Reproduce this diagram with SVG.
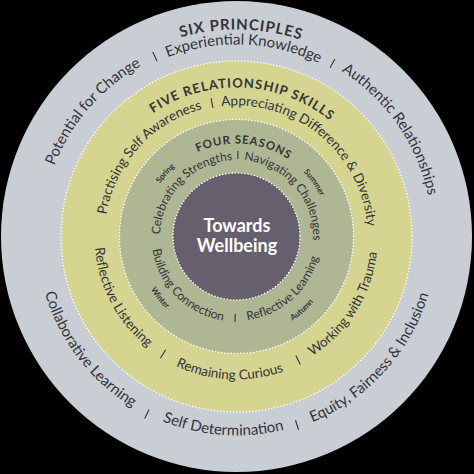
<svg xmlns="http://www.w3.org/2000/svg" xmlns:xlink="http://www.w3.org/1999/xlink" width="474" height="474" viewBox="0 0 474 474">
<style>
.t{font-family:Lato,"Open Sans","Liberation Sans",sans-serif;fill:#33333a}
.p{font-size:15px}
.s{font-size:13.5px}
.q{font-size:12px}
.h{font-weight:bold;letter-spacing:1px}
.n{font-size:8px;font-weight:bold}
.dot{fill:none;stroke:#fff;stroke-width:1.6;stroke-dasharray:0 3.2;stroke-linecap:round}
.sep{stroke:#33333a;stroke-width:1.1}
</style>
<defs>
<path id="a1" d="M29.55,231.8 A207,207 0 0 1 443.45,241.2"/>
<path id="a2" d="M44.64,229.13 A192,192 0 0 1 428.36,243.87"/>
<path id="a3" d="M107.91,384.42 A196,196 0 0 1 365.09,88.58"/>
<path id="a4" d="M124.63,75.55 A196,196 0 0 1 348.37,397.45"/>
<path id="a5" d="M114.14,77.04 A201,201 0 0 0 358.86,395.96"/>
<path id="a6" d="M36.99,222.55 A200,200 0 0 0 436.01,250.45"/>
<path id="a7" d="M101.23,385.17 A201,201 0 0 0 371.77,87.83"/>
<path id="b1" d="M87.64,230 A149,149 0 0 1 385.36,243"/>
<path id="b2" d="M147.83,334.29 A132,132 0 0 1 325.17,138.71"/>
<path id="b3" d="M134.65,152.54 A132,132 0 0 1 338.35,320.46"/>
<path id="b4" d="M170.05,111 A142,142 0 0 0 302.95,362"/>
<path id="b5" d="M93.68,229.27 A143,143 0 0 0 379.32,243.73"/>
<path id="b6" d="M161.25,356.92 A142,142 0 0 0 311.75,116.08"/>
<path id="c1" d="M143.81,228.88 A93,93 0 0 1 329.19,244.12"/>
<path id="c2" d="M182.82,291.7 A77,77 0 0 1 290.18,181.3"/>
<path id="c3" d="M186.19,178.21 A77,77 0 0 1 286.81,294.79"/>
<path id="c4" d="M174.75,306.05 A93,93 0 0 1 298.25,166.95"/>
<path id="c5" d="M183.42,160.13 A93,93 0 0 1 289.58,312.87"/>
<path id="c6" d="M176.5,176.29 A85,85 0 0 0 296.5,296.71"/>
<path id="c7" d="M172.94,292.93 A85,85 0 0 0 300.06,180.07"/>
<path id="c8" d="M173.21,157.79 A101,101 0 0 0 299.79,315.21"/>
<path id="c9" d="M161.09,303.69 A101,101 0 0 0 311.91,169.31"/>
</defs>
<rect width="474" height="474" fill="#000"/>
<g id="six-principles">
<circle cx="236.5" cy="236.5" r="235.5" fill="#c9cdd4"/>
<text class="t p h" style="letter-spacing:0.9px"><textPath href="#a1" startOffset="50%" text-anchor="middle">SIX PRINCIPLES</textPath></text>
<text class="t p"><textPath href="#a2" startOffset="50%" text-anchor="middle">Experiential Knowledge</textPath></text>
<text class="t p"><textPath href="#a3" startOffset="50%" text-anchor="middle">Potential for Change</textPath></text>
<text class="t p"><textPath href="#a4" startOffset="50%" text-anchor="middle">Authentic Relationships</textPath></text>
<text class="t p"><textPath href="#a5" startOffset="50%" text-anchor="middle">Collaborative Learning</textPath></text>
<text class="t p"><textPath href="#a6" startOffset="50%" text-anchor="middle">Self Determination</textPath></text>
<text class="t p"><textPath href="#a7" startOffset="50%" text-anchor="middle">Equity, Fairness &amp; Inclusion</textPath></text>
<path class="sep" d="M156.98,61.19L152.85,52.09M330.07,67.7L334.92,58.95M149.12,409.48L144.61,418.41M295.5,420.26L298.56,429.78"/>
</g>
<g id="five-relationship-skills">
<circle cx="236.5" cy="236.5" r="175.5" fill="#d5d490"/>
<circle class="dot" cx="236.5" cy="236.5" r="175.5"/>
<text class="t h" style="font-size:13px"><textPath href="#b1" startOffset="50%" text-anchor="middle">FIVE RELATIONSHIP SKILLS</textPath></text>
<text class="t s"><textPath href="#b2" startOffset="50%" text-anchor="middle">Practising Self Awareness</textPath></text>
<text class="t s"><textPath href="#b3" startOffset="50%" text-anchor="middle">Appreciating Difference &amp; Diversity</textPath></text>
<text class="t s"><textPath href="#b4" startOffset="50%" text-anchor="middle">Reflective Listening</textPath></text>
<text class="t s"><textPath href="#b5" startOffset="50%" text-anchor="middle">Remaining Curious</textPath></text>
<text class="t s"><textPath href="#b6" startOffset="50%" text-anchor="middle">Working with Trauma</textPath></text>
<path class="sep" d="M212.91,107.95L211.1,98.11M165.7,349.8L160.4,358.28M295.84,355.53L300.31,364.47"/>
</g>
<g id="four-seasons">
<circle cx="236.5" cy="236.5" r="117" fill="#aeb693"/>
<circle class="dot" cx="236.5" cy="236.5" r="117"/>
<text class="t h" style="font-size:11.5px;letter-spacing:0.8px"><textPath href="#c1" startOffset="50%" text-anchor="middle">FOUR SEASONS</textPath></text>
<text class="t q"><textPath href="#c2" startOffset="50%" text-anchor="middle">Celebrating Strengths</textPath></text>
<text class="t q"><textPath href="#c3" startOffset="50%" text-anchor="middle">Navigating Challenges</textPath></text>
<text class="t n"><textPath href="#c4" startOffset="50%" text-anchor="middle">Spring</textPath></text>
<text class="t n"><textPath href="#c5" startOffset="50%" text-anchor="middle">Summer</textPath></text>
<text class="t q"><textPath href="#c6" startOffset="50%" text-anchor="middle">Building Connection</textPath></text>
<text class="t q"><textPath href="#c7" startOffset="50%" text-anchor="middle">Reflective Learning</textPath></text>
<text class="t n"><textPath href="#c8" startOffset="50%" text-anchor="middle">Winter</textPath></text>
<text class="t n"><textPath href="#c9" startOffset="50%" text-anchor="middle">Autumn</textPath></text>
<path class="sep" d="M237.85,159L237.99,151M235.15,314L235.01,322"/>
</g>
<g id="towards-wellbeing">
<circle cx="236.5" cy="236.5" r="63.5" fill="#665f6d"/>
<circle class="dot" cx="236.5" cy="236.5" r="63.5"/>
<text class="t" x="237" y="231.5" text-anchor="middle" style="font-size:18px;font-weight:bold;fill:#fff">Towards</text>
<text class="t" x="237" y="251.5" text-anchor="middle" style="font-size:18px;font-weight:bold;fill:#fff">Wellbeing</text>
</g>
</svg>
